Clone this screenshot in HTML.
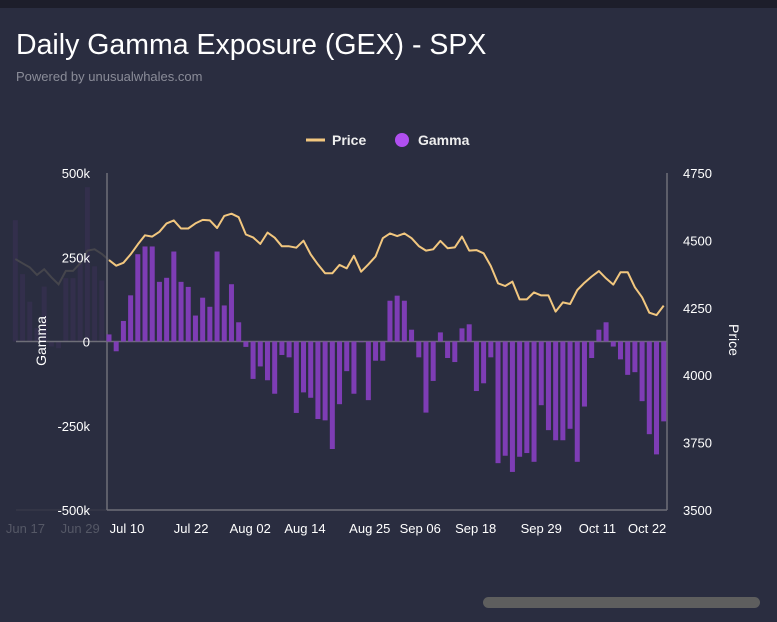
<!DOCTYPE html>
<html><head><meta charset="utf-8">
<style>
html,body{margin:0;padding:0;}
body{width:777px;height:622px;background:#2a2d40;position:relative;overflow:hidden;font-family:"Liberation Sans",sans-serif;}
#topbar{position:absolute;left:0;top:0;width:777px;height:8px;background:#1d1e2b;}
#title{position:absolute;left:16px;top:29px;font-size:28.5px;color:#fff;white-space:nowrap;}
#sub{position:absolute;left:16px;top:69px;font-size:13px;color:#8a8c98;}
#scroll{position:absolute;left:483px;top:597px;width:277px;height:11px;border-radius:6px;background:#5e5e5e;}
svg{position:absolute;left:0;top:0;}
</style></head><body>
<div id="topbar"></div>
<div id="title">Daily Gamma Exposure (GEX) - SPX</div>
<div id="sub">Powered by unusualwhales.com</div>
<div id="scroll"></div>
<svg id="chart" width="777" height="622"></svg>
<script>
const gamma=[21,-29,61,137,259,282,282,177,189,267,177,162,77,130,103,267,107,170,57,-16,-111,-74,-115,-155,-40,-47,-212,-151,-167,-230,-234,-319,-186,-88,-155,-2,-174,-57,-57,121,136,121,35,-47,-211,-117,27,-49,-61,39,51,-147,-124,-47,-361,-339,-387,-342,-331,-357,-189,-263,-293,-293,-259,-357,-193,-49,35,57,-15,-53,-99,-91,-177,-275,-335,-237];
const price=[4427,4406,4417,4448,4485,4519,4514,4532,4563,4574,4544,4544,4563,4576,4574,4546,4591,4599,4586,4522,4511,4487,4529,4510,4478,4478,4473,4499,4448,4411,4378,4378,4409,4396,4443,4384,4411,4440,4508,4526,4516,4526,4508,4479,4462,4467,4498,4471,4474,4514,4462,4464,4452,4405,4341,4331,4347,4281,4281,4307,4296,4296,4236,4270,4264,4316,4343,4366,4386,4359,4336,4382,4382,4326,4289,4232,4223,4258];
const pastGamma=[360,200,118,40,163,-15,-20,188,188,253,458,223,181];
const pastPrice=[4431,4415,4400,4372,4393,4363,4337,4387,4387,4415,4462,4467,4450];
const xLabels=["Jul 10","Jul 22","Aug 02","Aug 14","Aug 25","Sep 06","Sep 18","Sep 29","Oct 11","Oct 22"];
const xLabelIdx=[2.5,11.4,19.6,27.2,36.2,43.2,50.9,60,67.8,74.7];
const pastLabels=["Jun 17","Jun 29"];
const pastLabelIdx=[-11.6,-4];
const gTicks=[500,250,0,-250,-500];
const gTickLabels=["500k","250k","0","-250k","-500k"];
const pTicks=[4750,4500,4250,4000,3750,3500];

const NS="http://www.w3.org/2000/svg";
const svg=document.getElementById('chart');
const X0=109, STEP=7.204, YT=173, YB=510;
const xs=i=>X0+i*STEP;
const yg=v=>YT+(500-v)/1000*(YB-YT);
const yp=v=>YT+(4750-v)/1250*(YB-YT);
function mk(t,a,parent){const e=document.createElementNS(NS,t);for(const k in a)e.setAttribute(k,a[k]);(parent||svg).appendChild(e);return e;}

pastGamma.forEach((v,j)=>{const i=j-pastGamma.length;const y0=yg(0),y1=yg(v);
 const r=mk('rect',{x:xs(i)-2.5,y:Math.min(y0,y1),width:5,height:Math.abs(y1-y0),fill:'#332f4c'});
 
 });
let pp=pastPrice.map((v,j)=>xs(j-pastPrice.length).toFixed(1)+','+yp(v).toFixed(1));
pp.push(xs(0).toFixed(1)+','+yp(price[0]).toFixed(1));
const pl=mk('polyline',{points:pp.join(' '),fill:'none',stroke:'#45454c','stroke-width':2});



const zl=mk('line',{x1:16,x2:667,y1:yg(0),y2:yg(0),stroke:'#6e6e78','stroke-width':1.5});


mk('line',{x1:16,x2:107,y1:YB,y2:YB,stroke:'#363848','stroke-width':1.5});
const xa=mk('line',{x1:107,x2:667,y1:YB,y2:YB,stroke:'#6e6e78','stroke-width':1.5});


const la=mk('line',{x1:107,x2:107,y1:YT,y2:YB,stroke:'#6e6e78','stroke-width':1.5});


const ra=mk('line',{x1:667,x2:667,y1:YT,y2:YB,stroke:'#6e6e78','stroke-width':1.5});



gamma.forEach((v,i)=>{const y0=yg(0),y1=yg(v);
 const r=mk('rect',{x:xs(i)-2.5,y:Math.min(y0,y1),width:5,height:Math.max(0.5,Math.abs(y1-y0)),fill:'#7e3db5'});
 
 });
const pl2=mk('polyline',{points:price.map((v,i)=>xs(i).toFixed(1)+','+yp(v).toFixed(1)).join(' '),fill:'none',stroke:'#f2c77f','stroke-width':2,'stroke-linejoin':'round'});



gTicks.forEach((v,i)=>{const t=mk('text',{x:90,y:yg(v)+5,'text-anchor':'end','font-size':13,fill:'#fff'});t.textContent=gTickLabels[i];
 
 });
pTicks.forEach(v=>{const t=mk('text',{x:683,y:yp(v)+5,'font-size':13,fill:'#fff'});t.textContent=v;
 
 });
xLabels.forEach((s,i)=>{const t=mk('text',{x:xs(xLabelIdx[i]),y:533,'text-anchor':'middle','font-size':13,fill:'#fff'});t.textContent=s;
 
 });
pastLabels.forEach((s,i)=>{const t=mk('text',{x:xs(pastLabelIdx[i]),y:533,'text-anchor':'middle','font-size':13,fill:'#555866'});t.textContent=s;
 
 });
const gt=mk('text',{x:0,y:0,transform:'translate(46,341) rotate(-90)','text-anchor':'middle','font-size':14,fill:'#fff'});gt.textContent='Gamma';


const pt=mk('text',{x:0,y:0,transform:'translate(729,340) rotate(90)','text-anchor':'middle','font-size':14,fill:'#fff'});pt.textContent='Price';


const lg=mk('g',{});


mk('line',{x1:306,x2:325,y1:140,y2:140,stroke:'#f2c77f','stroke-width':3},lg);
const t1=mk('text',{x:332,y:145,'font-size':14,'font-weight':'bold',fill:'#eee'},lg);t1.textContent='Price';


mk('circle',{cx:402,cy:140,r:7,fill:'#b04ff0'},lg);
const t2=mk('text',{x:418,y:145,'font-size':14,'font-weight':'bold',fill:'#eee'},lg);t2.textContent='Gamma';


</script>
</body></html>
